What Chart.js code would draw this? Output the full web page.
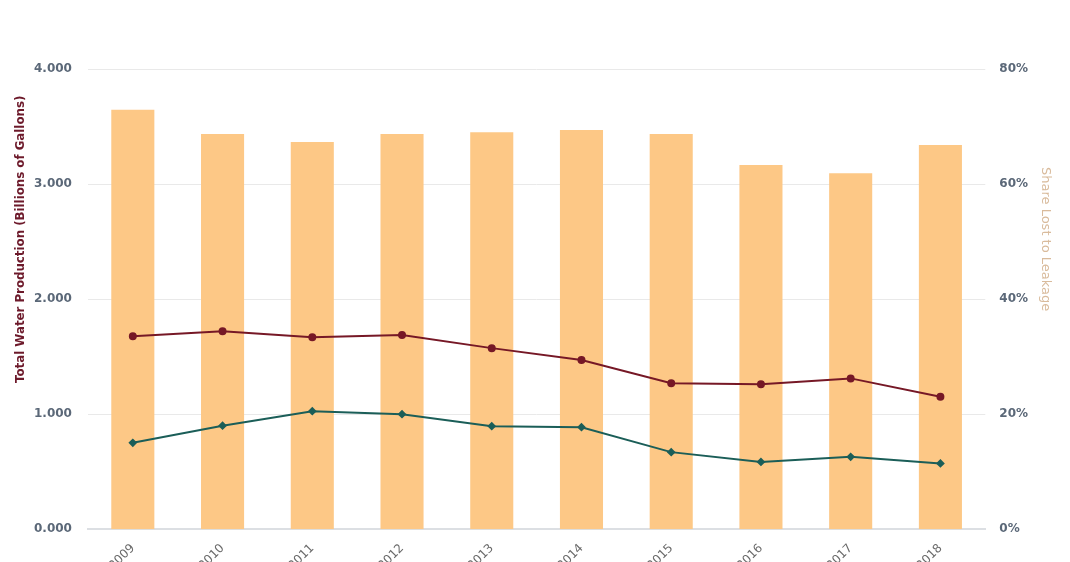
<!DOCTYPE html>
<html>
<head>
<meta charset="utf-8">
<script src="https://cdn.jsdelivr.net/npm/chart.js@4/dist/chart.umd.min.js"></script>
<style>
  html, body { margin: 0; padding: 0; background: #fff; overflow: hidden; }
  #frame { position: relative; width: 1070px; height: 562px; overflow: hidden; }
  #holder { position: absolute; left: 0; top: 0; width: 1070px; height: 577px; }
  .axisTitle { position: absolute; font-family: "DejaVu Sans", sans-serif; white-space: nowrap; writing-mode: vertical-rl; text-align: center; }
  #leftTitle { left: 13px; top: 97px; height: 286px; font-size: 11.8px; transform: rotate(180deg); color: #6d1a2b; font-weight: bold; }
  #rightTitle { left: 1039px; top: 165px; height: 148px; font-size: 13px; color: #d9bb9c; }
</style>
</head>
<body>
<div id="frame">
  <div id="holder"><canvas id="chart"></canvas></div>
  <div class="axisTitle" id="leftTitle">Total Water Production (Billions of Gallons)</div>
  <div class="axisTitle" id="rightTitle">Share Lost to Leakage</div>
</div>
<script>
var years = ['2009', '2010', '2011', '2012', '2013', '2014', '2015', '2016', '2017', '2018']
var leakageShare = [72.9, 68.7, 67.3, 68.7, 69.0, 69.4, 68.7, 63.3, 61.9, 66.8]
var totalProduction = [1.677, 1.720, 1.668, 1.687, 1.574, 1.470, 1.268, 1.259, 1.311, 1.151]
var secondSeries = [0.751, 0.900, 1.026, 1.000, 0.896, 0.887, 0.670, 0.585, 0.629, 0.572]
var leftTicks = [0, 1, 2, 3, 4]
var rightTicks = [0, 20, 40, 60, 80]

var tickColor = '#5b6878'
Chart.defaults.font.family = '"DejaVu Sans", sans-serif'

var chart = new Chart(document.getElementById('chart'), {
    type: 'bar',
    data: {
        labels: years,
        datasets: [{
            type: 'line',
            label: 'Total Water Production',
            data: totalProduction,
            yAxisID: 'y',
            borderColor: '#761826',
            backgroundColor: '#761826',
            borderWidth: 2,
            pointRadius: 3,
            pointHoverRadius: 4,
            tension: 0,
            order: 1
        }, {
            type: 'line',
            label: 'Second Series',
            data: secondSeries,
            yAxisID: 'y',
            borderColor: '#1b5e58',
            backgroundColor: '#1b5e58',
            borderWidth: 2,
            pointStyle: 'rectRot',
            pointRadius: 3,
            pointHoverRadius: 4,
            tension: 0,
            order: 1
        }, {
            type: 'bar',
            label: 'Share Lost to Leakage',
            data: leakageShare,
            yAxisID: 'y1',
            backgroundColor: '#fdc886',
            borderWidth: 0,
            barPercentage: 0.6,
            categoryPercentage: 0.8,
            order: 2
        }]
    },
    options: {
        responsive: true,
        maintainAspectRatio: false,
        animation: false,
        layout: { padding: { left: 18, right: 28, top: 69, bottom: 0 } },
        plugins: {
            legend: { display: false },
            tooltip: { enabled: true }
        },
        scales: {
            x: {
                grid: { display: false },
                border: { display: true, color: '#dcdfe3', width: 2 },
                ticks: { color: '#6a6a6a', font: { size: 12 }, maxRotation: 45, minRotation: 45, padding: 4 }
            },
            y: {
                position: 'left',
                min: 0,
                max: 4,
                afterBuildTicks: function (axis) { axis.ticks = leftTicks.map(v => ({ value: v })) },
                grid: { color: '#e9e9e9', drawTicks: false },
                border: { display: false },
                ticks: {
                    color: tickColor,
                    padding: 16,
                    font: { size: 12, weight: 'bold' },
                    callback: v => v.toFixed(3)
                }
            },
            y1: {
                position: 'right',
                min: 0,
                max: 80,
                afterBuildTicks: function (axis) { axis.ticks = rightTicks.map(v => ({ value: v })) },
                grid: { display: false, drawTicks: false },
                border: { display: false },
                ticks: {
                    color: tickColor,
                    padding: 14,
                    font: { size: 12, weight: 'bold' },
                    callback: v => v + '%'
                }
            }
        }
    }
})
</script>
</body>
</html>
